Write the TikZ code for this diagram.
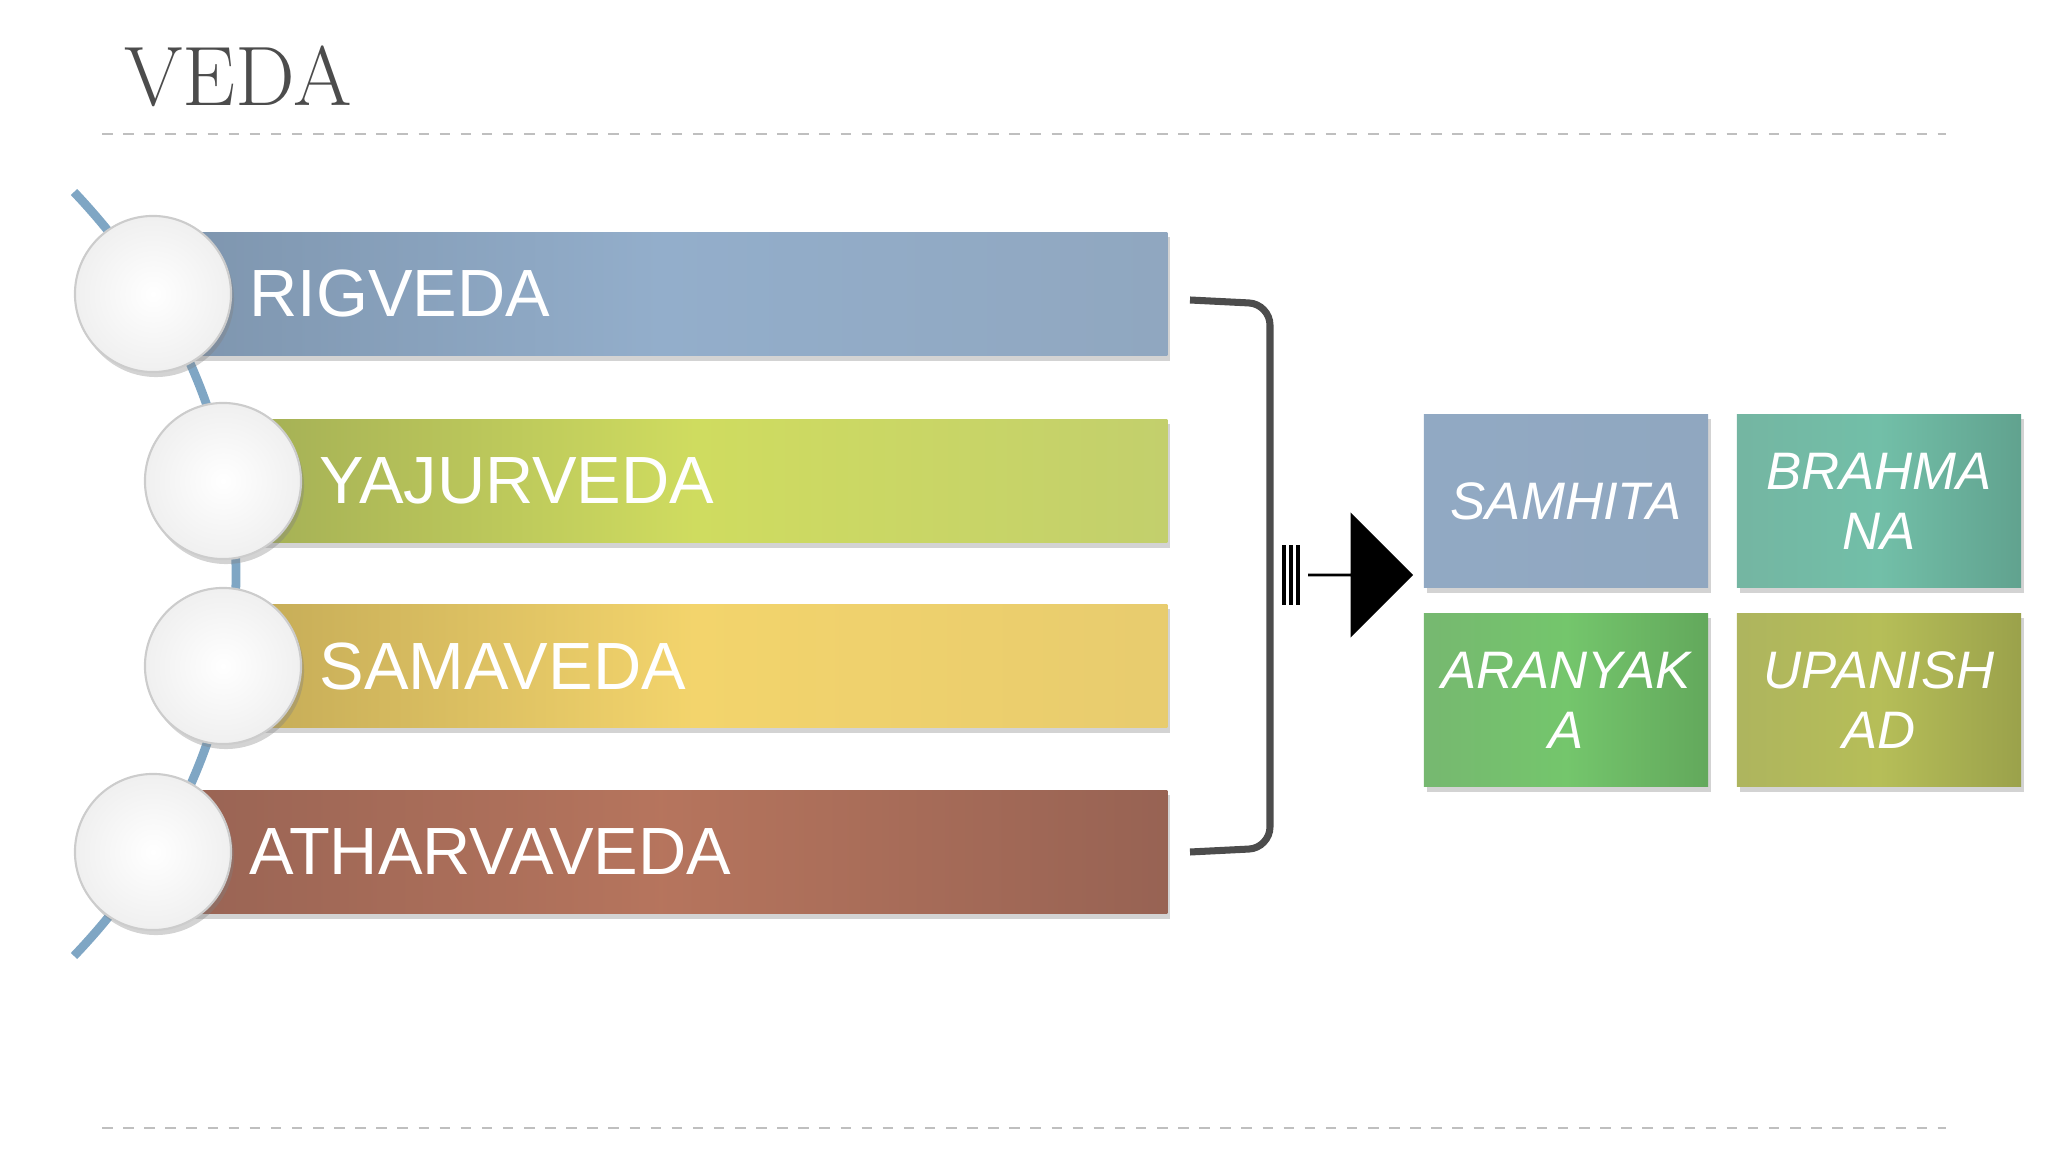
\documentclass[tikz,border=0pt]{standalone}
\usepackage{fontspec}
\setsansfont{Liberation Sans}
\usetikzlibrary{positioning,shapes.arrows,shadows}
\definecolor{rigc}{HTML}{93AECB}
\definecolor{yajc}{HTML}{CAD86A}
\definecolor{samc}{HTML}{F3D46C}
\definecolor{athc}{HTML}{B27462}
\definecolor{linec}{HTML}{7FA6C4}
\definecolor{brac}{HTML}{72BFA8}
\definecolor{aranc}{HTML}{74C66C}
\definecolor{upac}{HTML}{B6BE58}
\tikzset{
  bar/.style={minimum height=1.23cm, anchor=west,
    inner sep=0pt, text=white,
    drop shadow={shadow xshift=0.03cm,shadow yshift=-0.05cm,opacity=0.35}},
  knob/.style={circle, minimum size=1.56cm, draw=gray!40, line width=0.6pt,
    inner color=white, outer color=gray!12,
    drop shadow={shadow xshift=0.03cm,shadow yshift=-0.05cm,opacity=0.35}},
  part/.style={minimum width=2.84cm, minimum height=1.73cm, inner sep=2pt,
    text=white, align=center, text width=2.7cm,
    font=\sffamily\itshape\fontsize{15}{17}\selectfont,
    drop shadow={shadow xshift=0.03cm,shadow yshift=-0.05cm,opacity=0.35}},
  rule/.style={dashed, gray!50, line width=0.6pt}
}
\begin{document}
\begin{tikzpicture}[x=0.01cm,y=-0.01cm]
\useasboundingbox (0,0) rectangle (2048,1152);
% title and rules
\node[anchor=west, text=black!70, font=\fontsize{24}{24}\selectfont] (title) at (112,76) {VEDA};
\draw[rule] (102,134) -- (1946,134);
\draw[rule] (102,1128) -- (1946,1128);
% spine behind the circles
\draw[linec, line width=2.5pt] (74,192) .. controls (290,420) and (290,730) .. (74,956);
% bars
\node[bar, minimum width=10.13cm, left color=rigc!85!black, right color=rigc!85!gray, middle color=rigc] (rig) at (153,294) {};
\node[bar, minimum width=9.43cm, left color=yajc!80!black, right color=yajc!90!gray, middle color=yajc!90!yellow] (yaj) at (223,481) {};
\node[bar, minimum width=9.43cm, left color=samc!80!black, right color=samc!90!gray, middle color=samc] (sam) at (223,666) {};
\node[bar, minimum width=10.13cm, left color=athc!85!black, right color=athc!85!black, middle color=athc!95!orange] (ath) at (153,852) {};
% circles and labels
\foreach \n/\px/\py/\t in {rig/153/294/RIGVEDA, yaj/223/481/YAJURVEDA, sam/223/666/SAMAVEDA, ath/153/852/ATHARVAVEDA}{
  \node[knob] (k\n) at (\px,\py) {};
  \node[anchor=west, text=white, font=\sffamily\fontsize{19}{19}\selectfont] (t\n) at ([xshift=0.05cm]k\n.east) {\t};
}
% bracket
\coordinate (b1) at (1190,300);
\coordinate (b2) at (1190,852);
\draw[black!70, line width=2pt, rounded corners=6pt] (b1) -- (1270,304) -- (1270,848) -- (b2);
% arrow
\node[single arrow, fill=black, minimum height=1.05cm, minimum width=1.25cm,
  single arrow head extend=0.32cm, inner sep=0pt, single arrow tip angle=90] (arr) at (1360,575) {};
\foreach \x in {1282,1289,1296}{ \fill[black] (\x,545) rectangle ++(4,60); }
% parts
\node[part, left color=rigc!90!gray, right color=rigc!85!gray] (samh) at (1566,501) {SAMHITA};
\node[part, left color=brac!85!gray, right color=brac!85!black, middle color=brac] (brah) at (1879,501) {BRAHMA\\NA};
\node[part, left color=aranc!80!gray, right color=aranc!85!black, middle color=aranc] (aran) at (1566,700) {ARANYAK\\A};
\node[part, left color=upac!85!gray, right color=upac!85!black, middle color=upac] (upan) at (1879,700) {UPANISH\\AD};
\end{tikzpicture}
\end{document}
